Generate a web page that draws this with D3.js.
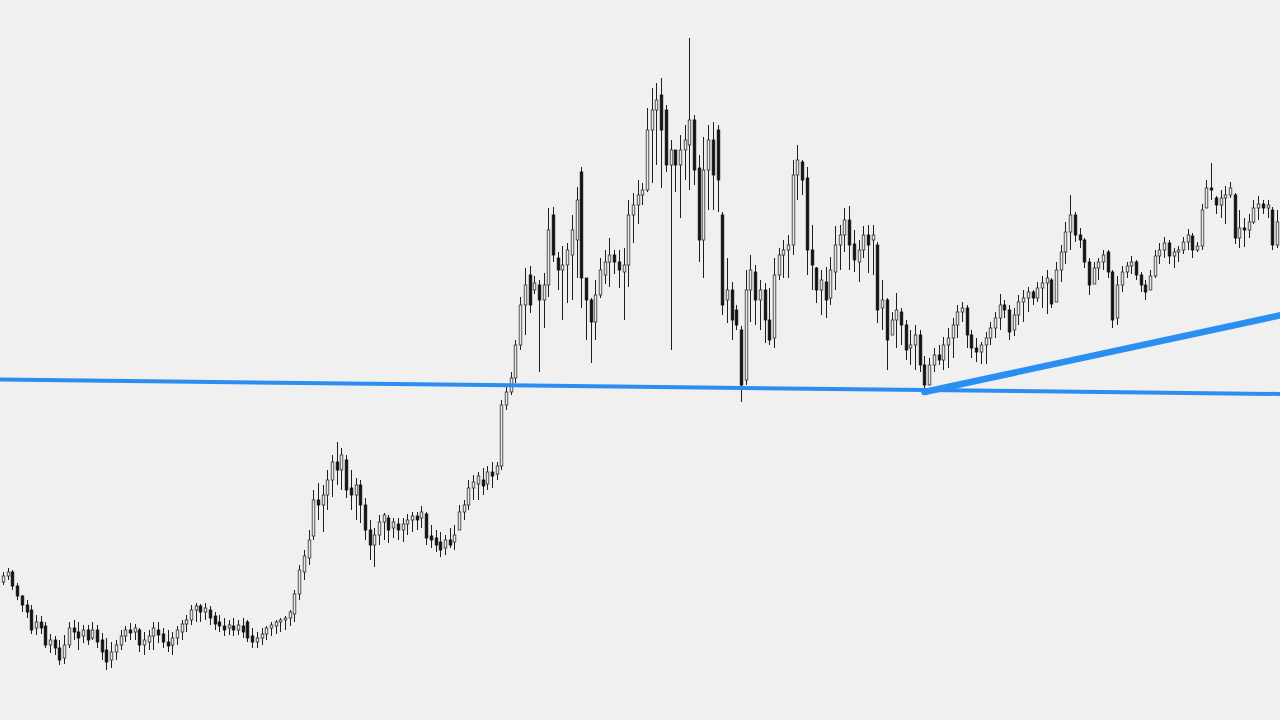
<!DOCTYPE html>
<html>
<head>
<meta charset="utf-8">
<script src="https://cdn.jsdelivr.net/npm/d3@7"></script>
<style>
html,body{margin:0;padding:0;background:#f0f0f0;overflow:hidden;}
svg{display:block;}
</style>
</head>
<body>
<svg id="chart" width="1280" height="720"></svg>
<script>
// Price values (arbitrary units), one entry per candle
const opens = [138,144,148,134,124,115,110,92,98,94,75,80,72,62,75,92,88,84,90,82,90,80,70,60,68,75,84,90,88,90,75,78,84,90,86,78,75,82,88,96,
100,110,114,108,110,104,98,94,92,94,90,94,98,84,78,82,86,92,94,98,100,102,106,126,148,162,184,220,215,225,240,258,250,260,232,225,235,215,190,175,
185,198,202,192,196,190,196,200,204,202,206,184,182,178,172,180,178,190,208,215,232,236,240,236,248,246,254,315,328,342,375,415,445,430,435,420,435,505,462,450,
455,465,480,548,442,420,398,425,445,458,465,458,448,455,505,515,525,530,590,610,625,610,555,570,555,570,575,600,552,480,550,580,590,505,420,430,410,390,340,430,
448,420,430,400,382,445,465,470,475,545,558,542,470,452,430,438,422,448,475,485,500,476,458,470,485,480,475,412,420,385,400,408,395,372,375,385,355,335,355,365,
360,375,382,395,408,412,385,372,368,375,382,392,402,415,410,390,405,418,422,428,422,432,437,440,418,450,468,488,505,485,480,458,436,452,458,468,448,402,435,448,
454,458,445,435,430,444,464,470,477,464,468,470,478,484,470,474,512,532,522,515,522,525,525,482,492,490,498,512,516,512,510,475];
const highs = [148,152,150,137,125,120,115,105,104,98,86,84,80,85,98,100,98,95,95,98,95,87,82,78,80,90,94,97,96,92,88,90,98,98,92,90,88,94,100,105,
115,117,116,117,114,108,105,102,100,102,100,102,100,92,88,92,94,98,100,102,104,110,130,155,170,190,230,237,235,250,265,278,272,265,250,242,240,222,200,192,
205,207,205,202,202,202,206,208,208,214,208,195,190,188,185,192,195,215,220,240,245,248,252,254,258,258,320,335,348,380,423,452,454,444,440,447,512,513,468,474,
477,505,533,553,442,422,440,462,470,482,470,470,472,520,527,540,537,612,632,637,642,615,580,570,585,595,682,605,565,583,595,598,595,508,462,438,415,394,450,465,
455,440,437,432,462,472,480,485,560,575,560,553,495,453,450,453,463,494,495,512,514,490,480,494,495,495,478,440,422,408,427,412,400,390,395,390,364,362,372,375,
383,392,402,415,418,415,390,382,378,388,398,408,426,420,415,412,425,430,433,430,438,444,450,442,458,475,498,525,508,492,482,462,458,462,470,470,450,444,454,458,
464,460,448,440,450,470,477,483,480,472,474,483,491,487,478,516,540,557,524,530,534,538,527,510,502,506,520,524,520,520,513,510];
const lows = [135,140,130,120,108,102,86,85,86,72,67,65,55,56,72,80,70,77,75,80,72,60,50,52,60,70,78,80,80,68,65,70,70,77,72,68,65,75,80,88,
95,98,98,100,95,90,88,84,85,84,85,82,78,72,72,75,80,84,86,88,90,94,98,120,140,155,180,200,188,210,223,235,230,222,210,200,197,180,160,153,
175,180,177,182,180,178,185,188,190,192,175,172,168,163,165,172,170,190,200,210,220,220,225,230,232,240,250,310,325,337,370,385,407,426,348,392,423,458,430,400,
417,420,442,412,380,357,380,422,436,433,446,432,400,433,477,496,515,528,537,555,532,548,370,528,502,540,530,535,458,442,510,510,508,405,397,380,390,318,335,398,
395,390,377,375,372,440,442,442,465,520,525,445,430,417,405,402,415,430,450,468,450,448,438,462,447,445,397,390,350,385,372,375,360,355,350,348,326,335,348,355,
350,352,362,382,398,372,362,358,356,356,375,382,390,402,380,384,395,398,408,415,418,412,406,412,418,438,456,470,478,472,452,425,436,440,450,442,392,395,428,442,
446,440,428,420,430,442,456,462,456,452,458,466,470,462,468,470,512,520,506,502,496,522,476,472,473,482,496,500,506,502,470,472];
const closes = [144,148,134,124,115,108,90,98,92,75,80,72,60,75,92,88,82,90,80,90,78,68,58,68,75,84,90,87,92,75,80,84,92,85,78,74,82,90,96,100,
110,114,108,112,102,96,94,90,95,90,95,88,82,78,82,86,92,95,98,100,102,108,126,150,164,180,220,215,225,240,258,250,265,230,225,235,215,190,175,185,
198,205,190,198,190,196,200,204,200,208,182,180,175,170,180,175,185,208,215,232,238,244,234,248,244,254,315,328,342,375,415,435,415,437,420,435,490,465,450,455,
470,490,520,442,420,398,425,450,458,465,458,450,455,505,515,525,530,590,610,620,590,555,570,555,570,580,600,550,480,550,580,545,540,415,430,400,395,335,430,450,
420,430,400,380,445,465,470,475,545,560,540,470,455,430,440,420,450,475,485,500,475,460,470,485,475,485,410,420,380,400,410,395,370,375,385,355,335,355,365,360,
375,382,395,408,412,385,372,368,375,382,392,402,415,410,388,405,418,422,428,422,432,437,442,416,450,468,488,505,485,480,458,435,452,458,465,448,400,435,448,454,
458,445,435,428,444,464,470,477,464,468,470,478,485,470,474,510,532,530,515,522,525,532,482,492,490,498,512,516,512,515,475,498];

// Drawn lines: [candle index, price] end points
const supportLine = [[-1, 340.5], [272, 326]];
const trendLine = [[196, 328], [272, 405]];

const W = 1280, H = 720;
const svg = d3.select("#chart");
svg.append("rect").attr("width", W).attr("height", H).attr("fill", "#f0f0f0");

const n = closes.length;
const x = d3.scaleLinear().domain([0, n - 1]).range([3, 1277]);
const y = d3.scaleLinear().domain([0, 720]).range([720, 0]);

const candles = d3.range(n).map(i => ({i, o: opens[i], h: highs[i], l: lows[i], c: closes[i]}));
const bodyW = 2.6;

const g = svg.append("g");
g.selectAll("line.wick").data(candles).join("line")
  .attr("class", "wick")
  .attr("x1", d => Math.round(x(d.i)) + 0.5).attr("x2", d => Math.round(x(d.i)) + 0.5)
  .attr("y1", d => y(d.h)).attr("y2", d => y(d.l))
  .attr("stroke", "#1e1e1e").attr("stroke-width", 1);

g.selectAll("rect.body").data(candles).join("rect")
  .attr("class", "body")
  .attr("x", d => Math.round(x(d.i)) + 0.5 - bodyW / 2)
  .attr("width", bodyW)
  .attr("y", d => y(Math.max(d.o, d.c)))
  .attr("height", d => Math.max(1, Math.abs(y(d.o) - y(d.c))))
  .attr("fill", d => d.c >= d.o ? "#e8e8e8" : "#111111")
  .attr("stroke", d => d.c >= d.o ? "#333" : "#111")
  .attr("stroke-width", 0.8);

const line = d3.line().x(d => x(d[0])).y(d => y(d[1]));
svg.append("path").datum(supportLine).attr("d", line)
  .attr("fill", "none").attr("stroke", "#2a8ef2").attr("stroke-width", 4).attr("stroke-linecap", "round");
svg.append("path").datum(trendLine).attr("d", line)
  .attr("fill", "none").attr("stroke", "#2a8ef2").attr("stroke-width", 6.5).attr("stroke-linecap", "round");
</script>
</body>
</html>
